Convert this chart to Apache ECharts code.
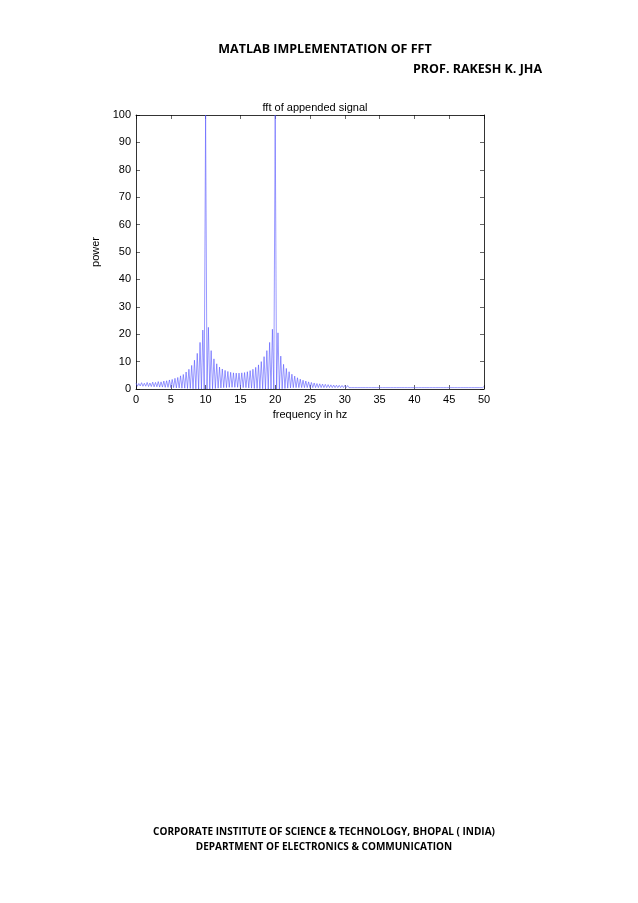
<!DOCTYPE html>
<html><head><meta charset="utf-8">
<script src="https://cdn.jsdelivr.net/npm/echarts@6/dist/echarts.min.js"></script>
<style>html,body{margin:0;padding:0;background:#fff}#c{width:638px;height:903px}</style>
</head><body><div id="c"></div>
<script>
const xTicks = [0,5,10,15,20,25,30,35,40,45,50];
const yTicks = [0,10,20,30,40,50,60,70,80,90,100];
// peak values at 0, 0.4, 0.8, ... 50 Hz
const peaks = [2.2,2.0,2.3,2.1,2.4,2.2,2.5,2.4,2.7,2.6,2.9,3.0,3.3,3.5,3.9,4.2,4.8,5.3,6.2,7.2,8.6,10.5,13,17,21.5,
 100,
 22.5,14,11,9.2,8,7.3,6.8,6.4,6.1,5.9,5.8,5.8,5.9,6.0,6.3,6.7,7.2,7.9,8.8,10,11.8,14,17,21.8,
 100,
 20.5,12,9,7.5,6.3,5.4,4.7,4.1,3.6,3.2,2.9,2.6,2.4,2.2,2.0,1.9,1.8,1.7,1.6,1.5,1.45,1.4,1.35,1.3,1.3,1.25,1.2,1.2,1.15,1.15,
 1.1,1.1,1.1,1.05,1.05,1.05,1.0,1.0,1.0,1.0,1.0,1.0,0.95,1.0,0.95,0.95,1.0,0.95,0.95,0.95,
 0.95,0.95,0.9,0.95,0.9,0.95,0.9,0.9,0.95,0.9,0.9,0.9,0.95,0.9,0.9,0.9,0.9,0.9,0.9,0.9,
 0.9,0.9,0.9,0.9,0.9];
// trough values at 0.2, 0.6, 1.0, ... 49.8 Hz
const troughs = [1.0,1.1,1.0,1.0,0.9,0.9,0.8,0.8,0.7,0.7,0.6,0.6,0.5,0.5,0.4,0.4,0.3,0.3,0.2,0.2,0.1,0.1,0.0,0.0,0.0,
 0.0,0.0,0.1,0.2,0.3,0.4,0.5,0.5,0.6,0.6,0.6,0.6,0.6,0.5,0.5,0.4,0.3,0.2,0.2,0.1,0.1,0.0,0.0,0.0,0.0,
 0.0,0.0,0.1,0.2,0.3,0.4,0.5,0.5,0.5,0.5,0.5,0.5,0.5,0.5,0.5,0.5,0.5,0.5,0.5,0.5,0.5,0.5,0.5,0.5,0.5,
 0.5,0.5,0.5,0.5,0.5,0.5,0.5,0.5,0.5,0.5,0.5,0.5,0.5,0.5,0.5,0.5,0.5,0.5,0.5,0.5,0.5,0.5,0.5,0.5,0.5,
 0.5,0.5,0.5,0.5,0.5,0.5,0.5,0.5,0.5,0.5,0.5,0.5,0.5,0.5,0.5,0.5,0.5,0.5,0.5,0.5,0.5,0.5,0.5,0.5,0.5];
const data = [];
for (let k = 0; k < peaks.length; k++) {
  data.push([k * 0.4, peaks[k]]);
  if (k < troughs.length) data.push([k * 0.4 + 0.2, troughs[k]]);
}
const chart = echarts.init(document.getElementById('c'));
const hdr = {fontFamily:'Open Sans',fontWeight:'bold',fontSize:12.5,color:'#000'};
const ftr = {fontFamily:'Open Sans',fontWeight:'bold',fontSize:10,color:'#000'};
const tick = {show:true,inside:true,length:4,lineStyle:{color:'#000',width:0.6}};
const line = {show:true,onZero:false,lineStyle:{color:'#000',width:0.8}};
const lab = {fontFamily:'Liberation Sans',fontSize:11,color:'#000'};
chart.setOption({
  animation:false,
  title:[
    {text:'MATLAB IMPLEMENTATION OF FFT',left:320,top:38,textAlign:'center',textStyle:hdr},
    {text:'PROF. RAKESH K. JHA',left:537,top:58,textAlign:'right',textStyle:hdr},
    {text:'fft of appended signal',left:310,top:97,textAlign:'center',textStyle:{fontFamily:'Liberation Sans',fontSize:11,fontWeight:'normal',color:'#000'}},
    {text:'CORPORATE INSTITUTE OF SCIENCE & TECHNOLOGY, BHOPAL ( INDIA)',left:319,top:822,textAlign:'center',textStyle:ftr},
    {text:'DEPARTMENT OF ELECTRONICS & COMMUNICATION',left:319,top:837,textAlign:'center',textStyle:ftr}
  ],
  grid:{left:136,top:115,width:348,height:274},
  xAxis:[
    {type:'value',min:0,max:50,interval:5,position:'bottom',axisLine:line,axisTick:tick,splitLine:{show:false},
     axisLabel:Object.assign({},lab,{margin:5}),name:'frequency in hz',nameLocation:'middle',nameGap:20,nameTextStyle:lab},
    {type:'value',min:0,max:50,interval:5,position:'top',axisLine:line,axisTick:tick,axisLabel:{show:false},splitLine:{show:false}}
  ],
  yAxis:[
    {type:'value',min:0,max:100,interval:10,position:'left',axisLine:line,axisTick:tick,splitLine:{show:false},
     axisLabel:Object.assign({},lab,{margin:5}),name:'power',nameLocation:'middle',nameGap:32,nameTextStyle:lab},
    {type:'value',min:0,max:100,interval:10,position:'right',axisLine:line,axisTick:tick,axisLabel:{show:false},splitLine:{show:false}}
  ],
  series:[{type:'line',data:data,showSymbol:false,lineStyle:{color:'#5555ff',width:0.6},clip:true}]
});
</script></body></html>
